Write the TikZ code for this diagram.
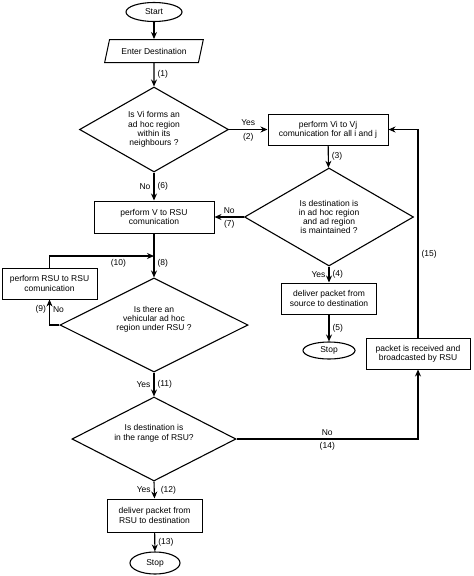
\documentclass[tikz,border=0pt]{standalone}
\usepackage{fontspec}
\setmainfont{Liberation Sans}
\usetikzlibrary{shapes.geometric, arrows.meta, positioning}

\begin{document}
\begin{tikzpicture}[x=1pt, y=-1pt,
  every node/.style={font=\fontsize{8.5}{9.2}\selectfont},
  terminal/.style={ellipse, draw, line width=1.1pt, inner sep=0pt},
  process/.style={rectangle, draw, line width=1pt, align=center, inner sep=1pt},
  decision/.style={diamond, draw, line width=1.1pt, align=center, inner sep=0pt},
  flow/.style={line width=1.1pt, -{Stealth[length=7pt, width=6pt]}},
  lbl/.style={inner sep=3pt}]
  \useasboundingbox (0,0) rectangle (474,576);

  % Left column
  \node[terminal, minimum width=56, minimum height=19] (start) at (154,12) {Start};
  \node[trapezium, draw, line width=1pt, trapezium left angle=73, trapezium right angle=107,
        trapezium stretches=true, minimum width=99, minimum height=23] (dest) at (154,51) {Enter Destination};
  \node[decision, aspect=1.75, minimum width=149, minimum height=85] (adhoc) at (154,129.5)
    {Is Vi forms an\\ad hoc region\\within its\\neighbours ?};
  \node[process, minimum width=120, minimum height=32] (vrsu) at (154,217) {perform V to RSU\\comunication};
  \node[process, minimum width=95, minimum height=31] (rsu) at (49.5,283.5) {perform RSU to RSU\\comunication};
  \node[decision, aspect=2, minimum width=188, minimum height=94] (under) at (154,325)
    {Is there an\\vehicular ad hoc\\region under RSU ?\\[4pt]};
  \node[decision, aspect=1.95, minimum width=164, minimum height=84] (range) at (154,439)
    {Is destination is\\in the range of RSU?\\[4pt]};
  \node[process, minimum width=95, minimum height=33] (delrsu) at (154.5,515.5) {deliver packet from\\RSU to destination};
  \node[terminal, minimum width=50, minimum height=22] (stopb) at (155,563) {Stop};

  % Right column
  \node[process, minimum width=120, minimum height=31] (vivj) at (328,129.5) {perform Vi to Vj\\comunication for all i and j};
  \node[decision, aspect=1.72, minimum width=169, minimum height=98] (maint) at (329,217)
    {Is destination is\\in ad hoc region\\and ad region\\is maintained ?};
  \node[process, minimum width=95, minimum height=31] (delsrc) at (329,298.5) {deliver packet from\\source to destination};
  \node[terminal, minimum width=52, minimum height=17] (stopa) at (329,350.5) {Stop};
  \node[process, minimum width=104, minimum height=31] (bcast) at (418,353.5) {packet is received and\\broadcasted by RSU};

  % Connectors
  \coordinate (merge) at (154,256);
  \draw[flow] (start) -- (dest);
  \draw[flow] (dest) -- node[lbl, right] (l1) {(1)} (adhoc);
  \draw[flow] (adhoc.east) -- node[lbl, above] (y2) {Yes} node[lbl, below] (l2) {(2)} (vivj.west);
  \draw[flow] (adhoc.south) -- node[lbl, left] (n6) {No} node[lbl, right] (l6) {(6)} (vrsu.north);
  \draw[flow] (vivj) -- node[lbl, right] (l3) {(3)} (maint);
  \draw[flow] (maint.west) -- node[lbl, above] (n7) {No} node[lbl, below] (l7) {(7)} (vrsu.east);
  \draw[flow] (maint.south) -- node[lbl, left] (y4) {Yes} node[lbl, right] (l4) {(4)} (delsrc.north);
  \draw[flow] (delsrc) -- node[lbl, right] (l5) {(5)} (stopa);
  \draw[flow] (vrsu.south) -- node[lbl, right, pos=0.68] (l8) {(8)} (under.north);
  \draw[flow] (rsu.north) |- node[lbl, below, pos=0.83] (l10) {(10)} (merge);
  \draw[flow] (under.west) -| node[lbl, left, pos=0.8] (l9) {(9)} node[lbl, right, pos=0.8] (n9) {No} (rsu.south);
  \draw[flow] (under.south) -- node[lbl, left] (y11) {Yes} node[lbl, right] (l11) {(11)} (range.north);
  \draw[flow] (range.east) -| node[lbl, above, pos=0.25] (n14) {No} node[lbl, below, pos=0.25] (l14) {(14)} (bcast.south);
  \draw[flow] (bcast.north) |- node[lbl, right, pos=0.2] (l15) {(15)} (vivj.east);
  \draw[flow] (range.south) -- node[lbl, left] (y12) {Yes} node[lbl, right, xshift=3pt] (l12) {(12)} (delrsu.north);
  \draw[flow] (delrsu) -- node[lbl, right] (l13) {(13)} (stopb);
\end{tikzpicture}
\end{document}
